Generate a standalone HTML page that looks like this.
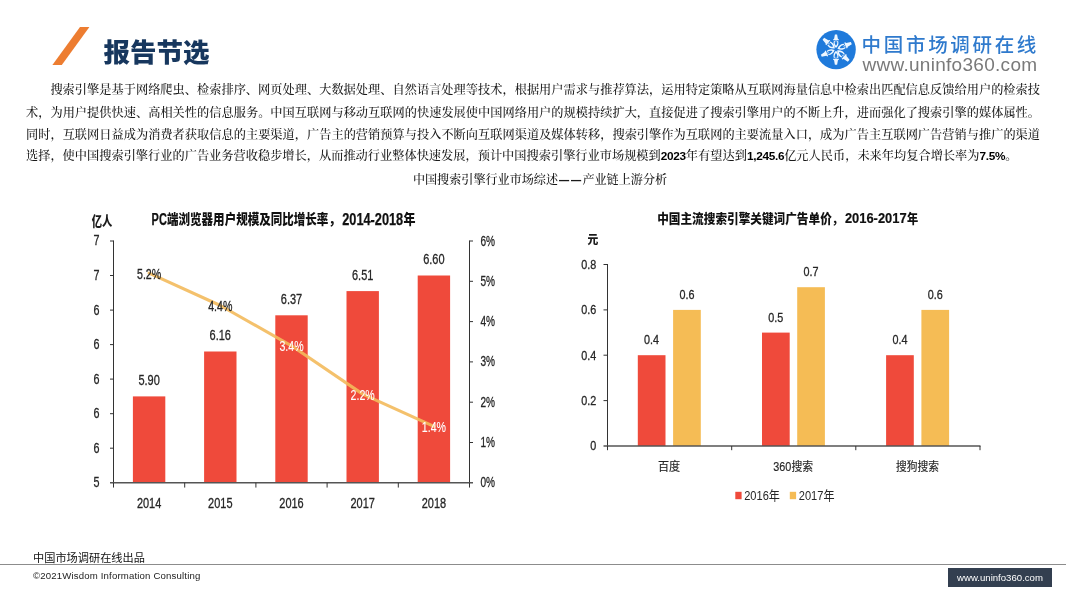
<!DOCTYPE html>
<html lang="zh-CN">
<head>
<meta charset="utf-8">
<title>报告节选</title>
<style>
html,body{margin:0;padding:0;background:#fff;}
#page{position:relative;width:1066px;height:600px;overflow:hidden;background:#fff;
  font-family:"Liberation Sans","Noto Sans CJK SC",sans-serif;color:#222;}
.abs{position:absolute;white-space:nowrap;}
#title{left:103.4px;top:34.4px;font-size:26.5px;line-height:38px;font-weight:900;color:#17375E;
  font-family:"Liberation Sans","Noto Sans CJK SC",sans-serif;letter-spacing:0px;}
#brand{left:861.6px;top:30.2px;font-size:19.5px;line-height:30px;color:#2F7ACD;letter-spacing:2.68px;font-weight:500;
  font-family:"Liberation Sans","Noto Sans CJK SC",sans-serif;}
#url{left:862.4px;top:52.4px;font-size:19px;line-height:26px;color:#7A7A7A;letter-spacing:0.29px;
  font-family:"Liberation Sans",sans-serif;}
.pl{position:absolute;left:26px;width:1014px;height:20px;line-height:20px;font-size:12.2px;color:#1a1a1a;
  font-family:"Liberation Serif","Noto Serif CJK SC",serif;font-weight:500;white-space:nowrap;text-align:justify;text-align-last:justify;}
.pl b{font-family:"Liberation Sans",sans-serif;font-weight:bold;font-size:11.8px;letter-spacing:-0.3px;color:#000;}
#sub{left:412px;top:170.2px;width:256px;font-size:12.1px;line-height:20px;color:#1a1a1a;text-align:center;font-weight:500;
  font-family:"Liberation Serif","Noto Serif CJK SC",serif;}
.dash{font-family:"Liberation Sans","Noto Sans CJK SC",sans-serif;font-weight:bold;display:inline-block;width:12.2px;text-align:center;transform:scaleX(0.84);}
#f1{left:33px;top:549.5px;font-size:11.2px;line-height:16px;color:#111;}
#f2{left:33px;top:569px;font-size:9.6px;line-height:14px;color:#222;letter-spacing:0.17px;}
#fline{position:absolute;left:0;top:564px;width:1066px;height:1px;background:#8c8c8c;}
#fbox{position:absolute;left:948px;top:568px;width:104px;height:19px;background:#333F50;color:#fff;
  font-size:9.6px;line-height:19px;text-align:center;}
svg{position:absolute;left:0;top:0;}
svg text{font-family:"Liberation Sans","Noto Sans CJK SC",sans-serif;}
</style>
</head>
<body>
<div id="page">

<!-- header -->
<svg width="1066" height="600" viewBox="0 0 1066 600">
  <polygon points="80,27 89.4,27 61.8,65 52.4,65" fill="#ED7D31"/>
  <!-- logo -->
  <g id="logo">
    <circle cx="836.1" cy="49.6" r="19.7" fill="#1F7ADB"/>
    <defs>
      <g id="arm">
        <path d="M-1.1,-15 L1.1,-15 L1.9,-10.7 L2.8,-10.1 L2.8,-9.2 L-2.8,-9.2 L-2.8,-10.1 L-1.9,-10.7 Z"/>
        <path d="M0,-1.4 C-2.6,-3.6 -2.9,-6.4 -2.1,-8.5 L-1.1,-8.5 C-1.6,-6.6 -1.1,-4.8 0,-3.6 C1.1,-4.8 1.6,-6.6 1.1,-8.5 L2.1,-8.5 C2.9,-6.4 2.6,-3.6 0,-1.4 Z"/>
        <path d="M-0.55,-8.9 L0.55,-8.9 L0,-6.6 Z"/>
      </g>
    </defs>
    <g fill="#EDF6FF" transform="translate(836,49.4)">
      <use href="#arm" transform="rotate(0) scale(0.993)"/>
      <use href="#arm" transform="rotate(67.6) scale(1.107)"/>
      <use href="#arm" transform="rotate(131.8) scale(1.133)"/>
      <use href="#arm" transform="rotate(180) scale(1.020)"/>
      <use href="#arm" transform="rotate(246.6) scale(1.067)"/>
      <use href="#arm" transform="rotate(310) scale(1.100)"/>
    </g>
  </g>
</svg>
<div id="title" class="abs">报告节选</div>
<div id="brand" class="abs">中国市场调研在线</div>
<div id="url" class="abs">www.uninfo360.com</div>

<!-- paragraph -->
<div class="pl" style="top:80.2px;left:50.4px;width:989.6px;">搜索引擎是基于网络爬虫、检索排序、网页处理、大数据处理、自然语言处理等技术，根据用户需求与推荐算法，运用特定策略从互联网海量信息中检索出匹配信息反馈给用户的检索技</div>
<div class="pl" style="top:103.3px;">术，为用户提供快速、高相关性的信息服务。中国互联网与移动互联网的快速发展使中国网络用户的规模持续扩大，直接促进了搜索引擎用户的不断上升，进而强化了搜索引擎的媒体属性。</div>
<div class="pl" style="top:124.8px;">同时，互联网日益成为消费者获取信息的主要渠道，广告主的营销预算与投入不断向互联网渠道及媒体转移，搜索引擎作为互联网的主要流量入口，成为广告主互联网广告营销与推广的渠道</div>
<div class="pl" style="top:146px;text-align:left;text-align-last:left;letter-spacing:0.02px;">选择，使中国搜索引擎行业的广告业务营收稳步增长，从而推动行业整体快速发展，预计中国搜索引擎行业市场规模到<b>2023</b>年有望达到<b>1,245.6</b>亿元人民币，未来年均复合增长率为<b>7.5%</b>。</div>
<div id="sub" class="abs">中国搜索引擎行业市场综述<span class="dash">—</span><span class="dash">—</span>产业链上游分析</div>

<!-- CHARTS -->
<svg id="charts" width="1066" height="600" viewBox="0 0 1066 600">
<text x="91.8" y="226.4" font-size="13.5" font-weight="900" fill="#1a1a1a" textLength="20.6" lengthAdjust="spacingAndGlyphs">亿人</text>
<text x="151.6" y="224.5" font-size="16" font-weight="bold" fill="#111" stroke="#111" stroke-width="0.25" textLength="15.2" lengthAdjust="spacingAndGlyphs">PC</text>
<text x="167" y="224.2" font-size="14.2" font-weight="900" fill="#111" textLength="161.4" lengthAdjust="spacingAndGlyphs">端浏览器用户规模及同比增长率</text>
<text x="328.2" y="224.2" font-size="14.2" font-weight="bold" fill="#111">，</text>
<text x="342.2" y="224.5" font-size="16" font-weight="bold" fill="#111" stroke="#111" stroke-width="0.25" textLength="61" lengthAdjust="spacingAndGlyphs">2014-2018</text>
<text x="403.6" y="224.2" font-size="14.2" font-weight="900" fill="#111" textLength="12" lengthAdjust="spacingAndGlyphs">年</text>
<rect x="132.9" y="396.4" width="32.4" height="86.3" fill="#EF4A3B"/>
<rect x="204.1" y="351.5" width="32.4" height="131.2" fill="#EF4A3B"/>
<rect x="275.3" y="315.3" width="32.4" height="167.5" fill="#EF4A3B"/>
<rect x="346.5" y="291.1" width="32.4" height="191.7" fill="#EF4A3B"/>
<rect x="417.7" y="275.5" width="32.4" height="207.2" fill="#EF4A3B"/>
<line x1="113.5" y1="240.5" x2="113.5" y2="483.25" stroke="#333" stroke-width="1"/>
<line x1="469.5" y1="240.5" x2="469.5" y2="483.25" stroke="#333" stroke-width="1"/>
<line x1="110.0" y1="482.75" x2="473.0" y2="482.75" stroke="#555" stroke-width="1.7"/>
<line x1="110.0" y1="241.0" x2="113.5" y2="241.0" stroke="#333" stroke-width="1"/>
<line x1="110.0" y1="275.5" x2="113.5" y2="275.5" stroke="#333" stroke-width="1"/>
<line x1="110.0" y1="310.1" x2="113.5" y2="310.1" stroke="#333" stroke-width="1"/>
<line x1="110.0" y1="344.6" x2="113.5" y2="344.6" stroke="#333" stroke-width="1"/>
<line x1="110.0" y1="379.1" x2="113.5" y2="379.1" stroke="#333" stroke-width="1"/>
<line x1="110.0" y1="413.7" x2="113.5" y2="413.7" stroke="#333" stroke-width="1"/>
<line x1="110.0" y1="448.2" x2="113.5" y2="448.2" stroke="#333" stroke-width="1"/>
<line x1="469.5" y1="241.0" x2="473.0" y2="241.0" stroke="#333" stroke-width="1"/>
<line x1="469.5" y1="281.3" x2="473.0" y2="281.3" stroke="#333" stroke-width="1"/>
<line x1="469.5" y1="321.6" x2="473.0" y2="321.6" stroke="#333" stroke-width="1"/>
<line x1="469.5" y1="361.9" x2="473.0" y2="361.9" stroke="#333" stroke-width="1"/>
<line x1="469.5" y1="402.2" x2="473.0" y2="402.2" stroke="#333" stroke-width="1"/>
<line x1="469.5" y1="442.5" x2="473.0" y2="442.5" stroke="#333" stroke-width="1"/>
<line x1="113.5" y1="482.75" x2="113.5" y2="487.55" stroke="#333" stroke-width="1"/>
<line x1="184.7" y1="482.75" x2="184.7" y2="487.55" stroke="#333" stroke-width="1"/>
<line x1="255.9" y1="482.75" x2="255.9" y2="487.55" stroke="#333" stroke-width="1"/>
<line x1="327.1" y1="482.75" x2="327.1" y2="487.55" stroke="#333" stroke-width="1"/>
<line x1="398.3" y1="482.75" x2="398.3" y2="487.55" stroke="#333" stroke-width="1"/>
<line x1="469.5" y1="482.75" x2="469.5" y2="487.55" stroke="#333" stroke-width="1"/>
<text x="99.6" y="245.4" font-size="14.5" text-anchor="end" fill="#262626" stroke="#262626" stroke-width="0.3" textLength="6" lengthAdjust="spacingAndGlyphs">7</text>
<text x="99.6" y="279.9" font-size="14.5" text-anchor="end" fill="#262626" stroke="#262626" stroke-width="0.3" textLength="6" lengthAdjust="spacingAndGlyphs">7</text>
<text x="99.6" y="314.5" font-size="14.5" text-anchor="end" fill="#262626" stroke="#262626" stroke-width="0.3" textLength="6" lengthAdjust="spacingAndGlyphs">6</text>
<text x="99.6" y="349.0" font-size="14.5" text-anchor="end" fill="#262626" stroke="#262626" stroke-width="0.3" textLength="6" lengthAdjust="spacingAndGlyphs">6</text>
<text x="99.6" y="383.5" font-size="14.5" text-anchor="end" fill="#262626" stroke="#262626" stroke-width="0.3" textLength="6" lengthAdjust="spacingAndGlyphs">6</text>
<text x="99.6" y="418.1" font-size="14.5" text-anchor="end" fill="#262626" stroke="#262626" stroke-width="0.3" textLength="6" lengthAdjust="spacingAndGlyphs">6</text>
<text x="99.6" y="452.6" font-size="14.5" text-anchor="end" fill="#262626" stroke="#262626" stroke-width="0.3" textLength="6" lengthAdjust="spacingAndGlyphs">6</text>
<text x="99.6" y="487.1" font-size="14.5" text-anchor="end" fill="#262626" stroke="#262626" stroke-width="0.3" textLength="6" lengthAdjust="spacingAndGlyphs">5</text>
<text x="480.4" y="245.5" font-size="14.5" fill="#262626" stroke="#262626" stroke-width="0.3" textLength="14.6" lengthAdjust="spacingAndGlyphs">6%</text>
<text x="480.4" y="285.8" font-size="14.5" fill="#262626" stroke="#262626" stroke-width="0.3" textLength="14.6" lengthAdjust="spacingAndGlyphs">5%</text>
<text x="480.4" y="326.1" font-size="14.5" fill="#262626" stroke="#262626" stroke-width="0.3" textLength="14.6" lengthAdjust="spacingAndGlyphs">4%</text>
<text x="480.4" y="366.4" font-size="14.5" fill="#262626" stroke="#262626" stroke-width="0.3" textLength="14.6" lengthAdjust="spacingAndGlyphs">3%</text>
<text x="480.4" y="406.7" font-size="14.5" fill="#262626" stroke="#262626" stroke-width="0.3" textLength="14.6" lengthAdjust="spacingAndGlyphs">2%</text>
<text x="480.4" y="447.0" font-size="14.5" fill="#262626" stroke="#262626" stroke-width="0.3" textLength="14.6" lengthAdjust="spacingAndGlyphs">1%</text>
<text x="480.4" y="487.2" font-size="14.5" fill="#262626" stroke="#262626" stroke-width="0.3" textLength="14.6" lengthAdjust="spacingAndGlyphs">0%</text>
<text x="149.1" y="384.8" font-size="14.5" text-anchor="middle" fill="#262626" stroke="#262626" stroke-width="0.3" textLength="21.4" lengthAdjust="spacingAndGlyphs">5.90</text>
<text x="149.1" y="507.8" font-size="14.5" text-anchor="middle" fill="#262626" stroke="#262626" stroke-width="0.3" textLength="24.4" lengthAdjust="spacingAndGlyphs">2014</text>
<text x="220.3" y="339.9" font-size="14.5" text-anchor="middle" fill="#262626" stroke="#262626" stroke-width="0.3" textLength="21.4" lengthAdjust="spacingAndGlyphs">6.16</text>
<text x="220.3" y="507.8" font-size="14.5" text-anchor="middle" fill="#262626" stroke="#262626" stroke-width="0.3" textLength="24.4" lengthAdjust="spacingAndGlyphs">2015</text>
<text x="291.5" y="303.7" font-size="14.5" text-anchor="middle" fill="#262626" stroke="#262626" stroke-width="0.3" textLength="21.4" lengthAdjust="spacingAndGlyphs">6.37</text>
<text x="291.5" y="507.8" font-size="14.5" text-anchor="middle" fill="#262626" stroke="#262626" stroke-width="0.3" textLength="24.4" lengthAdjust="spacingAndGlyphs">2016</text>
<text x="362.7" y="279.5" font-size="14.5" text-anchor="middle" fill="#262626" stroke="#262626" stroke-width="0.3" textLength="21.4" lengthAdjust="spacingAndGlyphs">6.51</text>
<text x="362.7" y="507.8" font-size="14.5" text-anchor="middle" fill="#262626" stroke="#262626" stroke-width="0.3" textLength="24.4" lengthAdjust="spacingAndGlyphs">2017</text>
<text x="433.9" y="263.9" font-size="14.5" text-anchor="middle" fill="#262626" stroke="#262626" stroke-width="0.3" textLength="21.4" lengthAdjust="spacingAndGlyphs">6.60</text>
<text x="433.9" y="507.8" font-size="14.5" text-anchor="middle" fill="#262626" stroke="#262626" stroke-width="0.3" textLength="24.4" lengthAdjust="spacingAndGlyphs">2018</text>
<polyline fill="none" stroke="#F3BA5C" stroke-opacity="0.9" stroke-width="3.1" stroke-linejoin="round" stroke-linecap="round" points="149.1,273.2 220.3,305.5 291.5,345.8 362.7,394.1 433.9,426.3"/>
<text x="149.1" y="278.8" font-size="14.5" text-anchor="middle" fill="#262626" stroke="#262626" stroke-width="0.3" textLength="24.2" lengthAdjust="spacingAndGlyphs">5.2%</text>
<text x="220.3" y="311.1" font-size="14.5" text-anchor="middle" fill="#262626" stroke="#262626" stroke-width="0.3" textLength="24.2" lengthAdjust="spacingAndGlyphs">4.4%</text>
<text x="291.5" y="351.4" font-size="14.5" text-anchor="middle" fill="#fff" stroke="#fff" stroke-width="0.1" textLength="24.2" lengthAdjust="spacingAndGlyphs">3.4%</text>
<text x="362.7" y="399.7" font-size="14.5" text-anchor="middle" fill="#fff" stroke="#fff" stroke-width="0.1" textLength="24.2" lengthAdjust="spacingAndGlyphs">2.2%</text>
<text x="433.9" y="431.9" font-size="14.5" text-anchor="middle" fill="#fff" stroke="#fff" stroke-width="0.1" textLength="24.2" lengthAdjust="spacingAndGlyphs">1.4%</text>
<text x="657.2" y="223.4" font-size="12.8" font-weight="900" fill="#111" textLength="174.6" lengthAdjust="spacingAndGlyphs">中国主流搜索引擎关键词广告单价</text>
<text x="831.6" y="223.4" font-size="12.8" font-weight="bold" fill="#111">，</text>
<text x="844.9" y="223.3" font-size="14.2" font-weight="bold" fill="#111" stroke="#111" stroke-width="0.2" textLength="61.7" lengthAdjust="spacingAndGlyphs">2016-2017</text>
<text x="907" y="223.4" font-size="12.8" font-weight="900" fill="#111" textLength="11.2" lengthAdjust="spacingAndGlyphs">年</text>
<text x="587.5" y="243.6" font-size="12" font-weight="900" fill="#1a1a1a" textLength="10.8" lengthAdjust="spacingAndGlyphs">元</text>
<rect x="637.8" y="355.2" width="27.7" height="90.8" fill="#EF4A3B"/>
<text x="651.6" y="344.4" font-size="13" text-anchor="middle" fill="#262626" stroke="#262626" stroke-width="0.3" textLength="15" lengthAdjust="spacingAndGlyphs">0.4</text>
<rect x="673.1" y="309.9" width="27.7" height="136.1" fill="#F5BC55"/>
<text x="686.9" y="299.1" font-size="13" text-anchor="middle" fill="#262626" stroke="#262626" stroke-width="0.3" textLength="15" lengthAdjust="spacingAndGlyphs">0.6</text>
<rect x="762.0" y="332.6" width="27.7" height="113.4" fill="#EF4A3B"/>
<text x="775.8" y="321.8" font-size="13" text-anchor="middle" fill="#262626" stroke="#262626" stroke-width="0.3" textLength="15" lengthAdjust="spacingAndGlyphs">0.5</text>
<rect x="797.2" y="287.2" width="27.7" height="158.8" fill="#F5BC55"/>
<text x="811.0" y="276.4" font-size="13" text-anchor="middle" fill="#262626" stroke="#262626" stroke-width="0.3" textLength="15" lengthAdjust="spacingAndGlyphs">0.7</text>
<rect x="886.1" y="355.2" width="27.7" height="90.8" fill="#EF4A3B"/>
<text x="899.9" y="344.4" font-size="13" text-anchor="middle" fill="#262626" stroke="#262626" stroke-width="0.3" textLength="15" lengthAdjust="spacingAndGlyphs">0.4</text>
<rect x="921.4" y="309.9" width="27.7" height="136.1" fill="#F5BC55"/>
<text x="935.2" y="299.1" font-size="13" text-anchor="middle" fill="#262626" stroke="#262626" stroke-width="0.3" textLength="15" lengthAdjust="spacingAndGlyphs">0.6</text>
<line x1="607.5" y1="264.0" x2="607.5" y2="446.5" stroke="#333" stroke-width="1"/>
<line x1="603.5" y1="446" x2="980.5" y2="446" stroke="#555" stroke-width="1.7"/>
<line x1="603.5" y1="264.5" x2="607.5" y2="264.5" stroke="#333" stroke-width="1"/>
<text x="596.3" y="268.8" font-size="13" text-anchor="end" fill="#262626" stroke="#262626" stroke-width="0.3" textLength="15" lengthAdjust="spacingAndGlyphs">0.8</text>
<line x1="603.5" y1="309.9" x2="607.5" y2="309.9" stroke="#333" stroke-width="1"/>
<text x="596.3" y="314.2" font-size="13" text-anchor="end" fill="#262626" stroke="#262626" stroke-width="0.3" textLength="15" lengthAdjust="spacingAndGlyphs">0.6</text>
<line x1="603.5" y1="355.2" x2="607.5" y2="355.2" stroke="#333" stroke-width="1"/>
<text x="596.3" y="359.5" font-size="13" text-anchor="end" fill="#262626" stroke="#262626" stroke-width="0.3" textLength="15" lengthAdjust="spacingAndGlyphs">0.4</text>
<line x1="603.5" y1="400.6" x2="607.5" y2="400.6" stroke="#333" stroke-width="1"/>
<text x="596.3" y="404.9" font-size="13" text-anchor="end" fill="#262626" stroke="#262626" stroke-width="0.3" textLength="15" lengthAdjust="spacingAndGlyphs">0.2</text>
<text x="596.3" y="450.3" font-size="13" text-anchor="end" fill="#262626" stroke="#262626" stroke-width="0.3" textLength="6" lengthAdjust="spacingAndGlyphs">0</text>
<line x1="607.5" y1="446" x2="607.5" y2="450.2" stroke="#333" stroke-width="1"/>
<line x1="731.7" y1="446" x2="731.7" y2="450.2" stroke="#333" stroke-width="1"/>
<line x1="855.8" y1="446" x2="855.8" y2="450.2" stroke="#333" stroke-width="1"/>
<line x1="980.0" y1="446" x2="980.0" y2="450.2" stroke="#333" stroke-width="1"/>
<text x="669.1" y="471" font-size="12" text-anchor="middle" fill="#262626" stroke="#262626" stroke-width="0.15" textLength="22.2" lengthAdjust="spacingAndGlyphs">百度</text>
<text x="793.2" y="471" font-size="12" text-anchor="middle" fill="#262626" stroke="#262626" stroke-width="0.15" textLength="39.8" lengthAdjust="spacingAndGlyphs">360搜索</text>
<text x="917.4" y="471" font-size="12" text-anchor="middle" fill="#262626" stroke="#262626" stroke-width="0.15" textLength="43" lengthAdjust="spacingAndGlyphs">搜狗搜索</text>
<rect x="735.3" y="491.8" width="6.3" height="7.4" fill="#EF4A3B"/>
<text x="744.2" y="499.8" font-size="12.6" fill="#262626" textLength="35.7" lengthAdjust="spacingAndGlyphs">2016年</text>
<rect x="789.8" y="491.8" width="6.3" height="7.4" fill="#F5BC55"/>
<text x="798.8" y="499.8" font-size="12.6" fill="#262626" textLength="35.7" lengthAdjust="spacingAndGlyphs">2017年</text>
</svg>

<!-- footer -->
<div id="f1" class="abs">中国市场调研在线出品</div>
<div id="fline"></div>
<div id="f2" class="abs">©2021Wisdom Information Consulting</div>
<div id="fbox">www.uninfo360.com</div>

</div>
</body>
</html>
